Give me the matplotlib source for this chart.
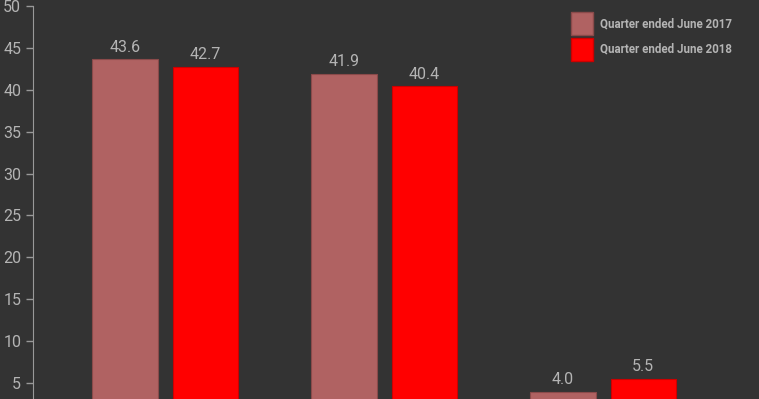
import numpy as np
import matplotlib.pyplot as plt
from matplotlib.patches import Patch

plt.rcParams['font.family'] = ['Roboto', 'DejaVu Sans']

groups = ["A", "B", "C"]
q2017 = [43.6, 41.9, 4.0]
q2018 = [42.7, 40.4, 5.5]
series_names = ["Quarter ended June 2017", "Quarter ended June 2018"]

bg = "#333333"
c2017 = "#b06262"
c2018 = "#ff0000"
txt = "#b4b4b4"

fig = plt.figure(figsize=(7.59, 3.99), dpi=100, facecolor=bg)
ax = fig.add_axes([33 / 759, 0, 1 - 33 / 759, (399 - 5.7) / 399])
ax.set_facecolor(bg)

x = np.arange(len(groups))
w = 0.297
off = 0.183
b1 = ax.bar(x - off, q2017, w, color=c2017, edgecolor="#8a4a4a", linewidth=0.8)
b2 = ax.bar(x + off, q2018, w, color=c2018, edgecolor="#cc0000", linewidth=0.8)

for bars, vals in ((b1, q2017), (b2, q2018)):
    for r, v in zip(bars, vals):
        ax.text(r.get_x() + r.get_width() / 2, v + 0.55, f"{v:.1f}",
                ha="center", va="bottom", color=txt, fontsize=11.5)

ax.set_xlim(-0.603, 2.712)
ax.set_ylim(3.13, 50)
ax.set_yticks(range(5, 51, 5))
ax.set_xticks([])
for s in ["top", "right", "bottom"]:
    ax.spines[s].set_visible(False)
ax.spines["left"].set_color("#999999")
ax.tick_params(axis="y", colors="#999999", labelcolor=txt, labelsize=11.5,
               length=5, width=1)

handles = [Patch(facecolor=c2017, edgecolor="#8a4a4a"),
           Patch(facecolor=c2018, edgecolor="#cc0000")]
leg = fig.legend(handles, series_names, loc="upper left",
                 bbox_to_anchor=(561 / 759, 1 - 2 / 399), frameon=False,
                 handlelength=1.9, handleheight=2.7, handletextpad=0.6,
                 labelspacing=0.22, prop={"size": 8.3, "weight": "bold"})
for t in leg.get_texts():
    t.set_color(txt)

fig.savefig("out.png", dpi=100, facecolor=bg)
